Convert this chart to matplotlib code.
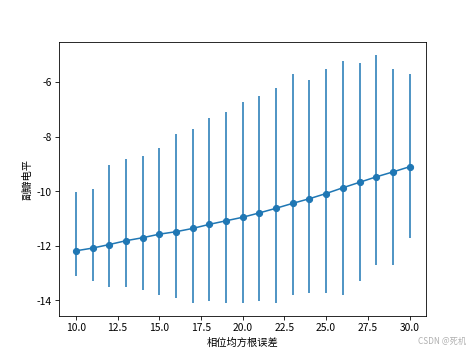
import matplotlib
matplotlib.use("Agg")
import matplotlib.pyplot as plt

plt.rcParams["font.family"] = ["Noto Sans CJK SC", "DejaVu Sans"]
plt.rcParams["axes.unicode_minus"] = False

# phase RMS error vs sidelobe level
rms_err = [10, 11, 12, 13, 14, 15, 16, 17, 18, 19, 20,
           21, 22, 23, 24, 25, 26, 27, 28, 29, 30]
level_mean = [-12.18, -12.08, -11.95, -11.81, -11.70, -11.57, -11.48, -11.36, -11.21, -11.08, -10.95,
              -10.79, -10.62, -10.44, -10.27, -10.08, -9.87, -9.67, -9.47, -9.29, -9.10]
level_max = [-10.02, -9.91, -9.02, -8.82, -8.71, -8.42, -7.90, -7.71, -7.31, -7.11, -6.71,
             -6.52, -6.23, -5.71, -5.93, -5.52, -5.22, -5.29, -5.00, -5.52, -5.71]
level_min = [-13.09, -13.30, -13.50, -13.50, -13.61, -13.80, -13.90, -14.11, -14.01, -14.08, -14.08,
             -14.01, -14.08, -13.80, -13.72, -13.72, -13.80, -13.29, -12.71, -12.71, -11.70]

err_lo = [m - lo for m, lo in zip(level_mean, level_min)]
err_hi = [hi - m for m, hi in zip(level_mean, level_max)]

fig, ax = plt.subplots(figsize=(6.4, 4.8), dpi=74)
ax.errorbar(rms_err, level_mean, yerr=[err_lo, err_hi], fmt="-o")
ax.set_xlabel("相位均方根误差")
ax.set_ylabel("副瓣电平")

fig.text(0.985, 0.025, "CSDN @死机", ha="right", va="bottom", color="#b0b0b0", fontsize=8)

fig.savefig("out.png", dpi=74)
